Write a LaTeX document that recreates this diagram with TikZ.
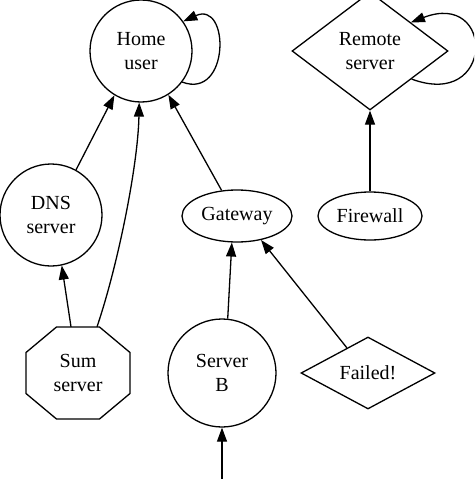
\documentclass[tikz,border=0pt]{standalone}
\usepackage{fontspec}
\setmainfont{Liberation Serif}
\usetikzlibrary{shapes.geometric,arrows.meta}
\tikzset{
  every node/.style={font=\fontsize{20}{24}\selectfont, align=center, inner sep=0pt},
  edge/.style={line width=1.3pt, -{Triangle[length=14pt,width=10pt]}},
  shp/.style={draw, line width=1.3pt},
}
\begin{document}
\begin{tikzpicture}[x=1pt,y=-1pt]
\clip (0,0) rectangle (474,479);
\node[shp, circle, minimum size=102pt] (home) at (141,51) {Home\\user};
\node[shp, diamond, minimum width=156pt, minimum height=118pt] (remote) at (370,51) {Remote\\server};
\node[shp, circle, minimum size=102pt] (dns) at (51,215) {DNS\\server};
\node[shp, ellipse, minimum width=110pt, minimum height=52pt] (gateway) at (237,216) {Gateway};
\node[shp, ellipse, minimum width=104pt, minimum height=48pt] (firewall) at (370,216) {Firewall};
\node[rectangle, minimum width=104pt, minimum height=92pt] (sum) at (78,373) {Sum\\server};
\draw[line width=1.3pt, shift={(sum.center)}] (-21.5,-46) -- (21.5,-46) -- (52,-20.5) -- (52,20.5) -- (21.5,46) -- (-21.5,46) -- (-52,20.5) -- (-52,-20.5) -- cycle;
\node[shp, circle, minimum size=108pt] (serverb) at (222,373) {Server\\B};
\node[shp, diamond, minimum width=134pt, minimum height=72pt] (failed) at (368,373) {Failed!};
\coordinate (below) at (222,479);

\draw[edge] (home.-37) .. controls (230,100) and (230,0) .. (home.35);
\draw[edge] (remote.-34) .. controls (495,110) and (495,-10) .. (remote.35);
\draw[edge] (dns.61) -- (home.239);
\draw[edge] ([xshift=-7pt]sum.north) -- (dns.-78);
\draw[edge] ([xshift=19pt]sum.north) .. controls (118,265) and (138,165) .. (home.-92);
\draw[edge] (gateway.121) -- (home.-58);
\draw[edge] (serverb.84) -- (gateway.259);
\draw[edge] (failed.130) -- (gateway.-45);
\draw[edge] (firewall.north) -- (remote.south);
\draw[edge] (below) -- (serverb.south);
\end{tikzpicture}
\end{document}
